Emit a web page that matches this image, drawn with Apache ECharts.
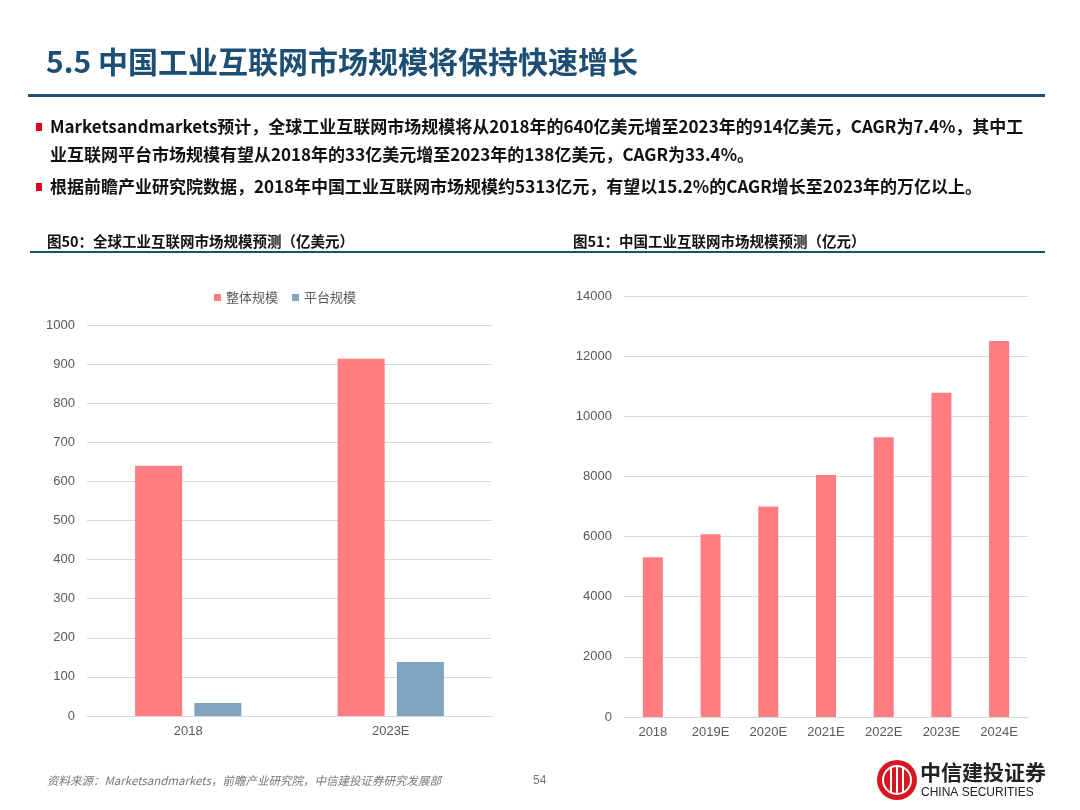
<!DOCTYPE html>
<html>
<head>
<meta charset="utf-8">
<script src="https://cdn.jsdelivr.net/npm/echarts@6/dist/echarts.min.js"></script>
<style>
  html, body { margin: 0; padding: 0; background: #fff; }
  #main { width: 1080px; height: 810px; }
</style>
</head>
<body>
<div id="main"></div>
<script>
// data
const globalYears = ['2018', '2023E'];
const globalTotal = [640, 914];      // 整体规模
const globalPlatform = [33, 138];    // 平台规模
const chinaYears = ['2018', '2019E', '2020E', '2021E', '2022E', '2023E', '2024E'];
const chinaSize = [5313, 6080, 7000, 8050, 9300, 10780, 12500];

const RED = '#ff7c80';
const BLUE = '#7ea4bf';
const NAVY = '#1d4e74';
const AXIS_TXT = '#595959';
const GRIDLINE = '#d9d9d9';
const CJK = '"Noto Sans CJK SC", "Liberation Sans", sans-serif';
const LAT = '"Liberation Sans", Arial, sans-serif';

const chart = echarts.init(document.getElementById('main'));

function valueAxis(idx, max, interval) {
    return {
        gridIndex: idx,
        type: 'value',
        min: 0,
        max: max,
        interval: interval,
        axisLine: { show: false },
        axisTick: { show: false },
        axisLabel: {
            color: AXIS_TXT, fontSize: 13, fontFamily: LAT, margin: 12,
            formatter: v => String(v),
        },
        splitLine: { lineStyle: { color: GRIDLINE, width: 1 } },
    };
}

function catAxis(idx, data) {
    return {
        gridIndex: idx,
        type: 'category',
        data: data,
        axisLine: { lineStyle: { color: GRIDLINE } },
        axisTick: { show: false },
        axisLabel: { color: AXIS_TXT, fontSize: 13, fontFamily: LAT, margin: 9 },
    };
}

const bullet = (y) => ({
    type: 'rect', shape: { x: 36, y: y - 4, width: 6, height: 8 }, style: { fill: '#e0001b' }
});
const txt = (x, y, text, font, fill, extra) => ({
    type: 'text', x: x, y: y,
    style: Object.assign({ text: text, font: font, fill: fill, textVerticalAlign: 'middle' }, extra || {})
});

const option = {
    animation: false,
    backgroundColor: '#fff',
    grid: [
        { left: 87, right: 588, top: 325, bottom: 94 },
        { left: 624, right: 52, top: 296, bottom: 93 },
    ],
    legend: {
        top: 286,
        left: 209,
        itemWidth: 7,
        itemHeight: 7,
        itemGap: 14,
        icon: 'rect',
        textStyle: { color: AXIS_TXT, fontSize: 13, fontFamily: CJK },
        data: ['整体规模', '平台规模'],
    },
    xAxis: [catAxis(0, globalYears), catAxis(1, chinaYears)],
    yAxis: [valueAxis(0, 1000, 100), valueAxis(1, 14000, 2000)],
    series: [
        {
            name: '整体规模', type: 'bar', xAxisIndex: 0, yAxisIndex: 0,
            data: globalTotal, barWidth: 47, barGap: '26%',
            itemStyle: { color: RED },
        },
        {
            name: '平台规模', type: 'bar', xAxisIndex: 0, yAxisIndex: 0,
            data: globalPlatform, barWidth: 47, barGap: '26%',
            itemStyle: { color: BLUE },
        },
        {
            name: '中国规模', type: 'bar', xAxisIndex: 1, yAxisIndex: 1,
            data: chinaSize, barWidth: 20,
            itemStyle: { color: RED },
        },
    ],
    graphic: [
        // title
        txt(46, 62, '5.5 中国工业互联网市场规模将保持快速增长', 'bold 30px ' + CJK, NAVY),
        { type: 'rect', shape: { x: 28, y: 94, width: 1017, height: 3 }, style: { fill: NAVY } },
        // bullets
        bullet(127),
        txt(50, 127, 'Marketsandmarkets预计，全球工业互联网市场规模将从2018年的640亿美元增至2023年的914亿美元，CAGR为7.4%，其中工',
            'bold 17px ' + CJK, '#111'),
        txt(50, 155, '业互联网平台市场规模有望从2018年的33亿美元增至2023年的138亿美元，CAGR为33.4%。',
            'bold 17px ' + CJK, '#111'),
        bullet(187),
        txt(50, 187, '根据前瞻产业研究院数据，2018年中国工业互联网市场规模约5313亿元，有望以15.2%的CAGR增长至2023年的万亿以上。',
            'bold 17px ' + CJK, '#111'),
        // figure captions
        txt(47, 241, '图50：全球工业互联网市场规模预测（亿美元）', 'bold 14.5px ' + CJK, '#111'),
        txt(573, 241, '图51：中国工业互联网市场规模预测（亿元）', 'bold 14.5px ' + CJK, '#111'),
        { type: 'rect', shape: { x: 30, y: 251, width: 1015, height: 2 }, style: { fill: NAVY } },
        // footer
        txt(47, 781, '资料来源：Marketsandmarkets，前瞻产业研究院，中信建投证券研究发展部', 'italic 11.5px ' + CJK, '#777'),
        txt(533, 781, '54', '12px ' + LAT, '#777'),
        // logo
        { type: 'circle', shape: { cx: 897, cy: 780, r: 20 }, style: { fill: '#d7171f' } },
        { type: 'circle', shape: { cx: 897, cy: 780, r: 14 }, style: { fill: 'none', stroke: '#fff', lineWidth: 2 } },
        { type: 'line', shape: { x1: 891, y1: 768, x2: 891, y2: 792 }, style: { stroke: '#fff', lineWidth: 2 } },
        { type: 'line', shape: { x1: 897, y1: 766, x2: 897, y2: 794 }, style: { stroke: '#fff', lineWidth: 2 } },
        { type: 'line', shape: { x1: 903, y1: 768, x2: 903, y2: 792 }, style: { stroke: '#fff', lineWidth: 2 } },
        txt(920, 772, '中信建投证券', 'bold 21px ' + CJK, '#222'),
        txt(921, 793, 'CHINA SECURITIES', '12px ' + LAT, '#222'),
    ],
};

chart.setOption(option);
</script>
</body>
</html>
